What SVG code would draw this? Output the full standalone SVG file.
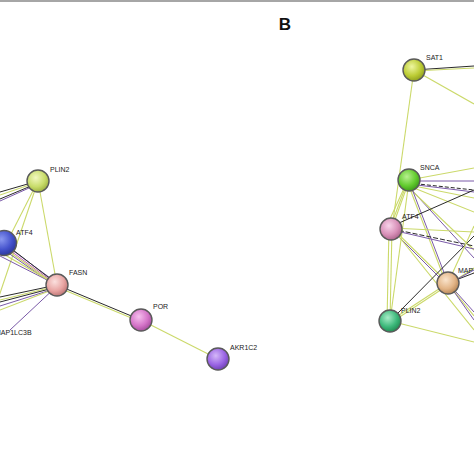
<svg xmlns="http://www.w3.org/2000/svg" width="474" height="474" viewBox="0 0 474 474">
<style>
.lbl{font-family:"Liberation Sans",Arial,sans-serif;font-size:7px;fill:#222}
.y{stroke:#cbd96a;stroke-width:1.1;fill:none}
.p{stroke:#7a5aa8;stroke-width:1;fill:none}
.k{stroke:#2a2a2a;stroke-width:1;fill:none}
.m{stroke:#c060b8;stroke-width:1;fill:none}
.n{stroke:#5a5a5a;stroke-width:1.4}
</style>
<defs>
<radialGradient id="gPl" cx="0.4" cy="0.35" r="0.7"><stop offset="0" stop-color="#f2f8c0"/><stop offset="0.6" stop-color="#c8dc6a"/><stop offset="1" stop-color="#98ac3a"/></radialGradient>
<radialGradient id="gAtfL" cx="0.4" cy="0.35" r="0.7"><stop offset="0" stop-color="#8a98f0"/><stop offset="0.6" stop-color="#4452cc"/><stop offset="1" stop-color="#2a3494"/></radialGradient>
<radialGradient id="gFa" cx="0.4" cy="0.35" r="0.7"><stop offset="0" stop-color="#fbe0de"/><stop offset="0.6" stop-color="#e8a4a2"/><stop offset="1" stop-color="#b87070"/></radialGradient>
<radialGradient id="gPo" cx="0.4" cy="0.35" r="0.7"><stop offset="0" stop-color="#f6c0ee"/><stop offset="0.6" stop-color="#d474c8"/><stop offset="1" stop-color="#a04898"/></radialGradient>
<radialGradient id="gAk" cx="0.4" cy="0.35" r="0.7"><stop offset="0" stop-color="#d4b8f8"/><stop offset="0.6" stop-color="#9a64e4"/><stop offset="1" stop-color="#6a3cb0"/></radialGradient>
<radialGradient id="gSa" cx="0.4" cy="0.35" r="0.7"><stop offset="0" stop-color="#eef6a0"/><stop offset="0.6" stop-color="#bccc34"/><stop offset="1" stop-color="#8a9a1c"/></radialGradient>
<radialGradient id="gSn" cx="0.4" cy="0.35" r="0.7"><stop offset="0" stop-color="#b8f090"/><stop offset="0.6" stop-color="#62cc2e"/><stop offset="1" stop-color="#3a9418"/></radialGradient>
<radialGradient id="gAtfR" cx="0.4" cy="0.35" r="0.7"><stop offset="0" stop-color="#f8d4ea"/><stop offset="0.6" stop-color="#d890b8"/><stop offset="1" stop-color="#a86088"/></radialGradient>
<radialGradient id="gMa" cx="0.4" cy="0.35" r="0.7"><stop offset="0" stop-color="#fae4cc"/><stop offset="0.6" stop-color="#e2b486"/><stop offset="1" stop-color="#b08050"/></radialGradient>
<radialGradient id="gPr" cx="0.4" cy="0.35" r="0.7"><stop offset="0" stop-color="#a8ecc8"/><stop offset="0.6" stop-color="#3cb87a"/><stop offset="1" stop-color="#20844e"/></radialGradient>
</defs>
<rect width="474" height="474" fill="#ffffff"/>
<rect x="0" y="0" width="474" height="2" fill="#a6a6a6"/>
<text x="285" y="30" text-anchor="middle" style="font-family:'Liberation Sans',Arial,sans-serif;font-size:17px;font-weight:bold;fill:#111">B</text>

<g id="connectors">
<!-- left panel -->
<line class="k" x1="38" y1="181" x2="0" y2="192"/>
<line class="y" x1="38" y1="182" x2="0" y2="195"/>
<line class="k" x1="38" y1="183" x2="0" y2="199"/>
<line class="p" x1="38" y1="184" x2="0" y2="201"/>
<line class="y" x1="38" y1="181" x2="8" y2="240"/>
<line class="y" x1="38" y1="181" x2="-4" y2="305"/>
<line class="y" x1="38" y1="181" x2="57" y2="285"/>
<line class="p" x1="4" y1="244" x2="57" y2="283"/>
<line class="m" x1="4" y1="246" x2="57" y2="285"/>
<line class="y" x1="4" y1="248" x2="57" y2="286"/>
<line class="p" x1="4" y1="250" x2="57" y2="287"/>
<line class="k" x1="4" y1="243" x2="57" y2="284"/>
<line class="p" x1="0" y1="256" x2="57" y2="285"/>
<line class="y" x1="0" y1="252" x2="57" y2="285"/>
<line class="k" x1="57" y1="285" x2="0" y2="297"/>
<line class="y" x1="57" y1="286" x2="0" y2="300"/>
<line class="k" x1="57" y1="287" x2="0" y2="302"/>
<line class="p" x1="57" y1="288" x2="0" y2="306"/>
<line class="y" x1="57" y1="288" x2="0" y2="310"/>
<line class="p" x1="57" y1="286" x2="10" y2="330"/>
<line class="k" x1="57" y1="285" x2="141" y2="320"/>
<line class="y" x1="57" y1="287" x2="141" y2="322"/>
<line class="y" x1="141" y1="320" x2="218" y2="359"/>
<!-- right panel -->
<line class="k" x1="414" y1="70" x2="474" y2="66"/>
<line class="y" x1="414" y1="71" x2="474" y2="68"/>
<line class="y" x1="414" y1="70" x2="474" y2="104"/>
<line class="y" x1="414" y1="70" x2="392" y2="228"/>
<line class="y" x1="409" y1="180" x2="474" y2="168"/>
<line class="p" x1="409" y1="181" x2="474" y2="181"/>
<line class="k" x1="409" y1="183" x2="474" y2="190" stroke-dasharray="4 2"/>
<line class="p" x1="409" y1="184" x2="474" y2="192"/>
<line class="y" x1="409" y1="185" x2="474" y2="198"/>
<line class="y" x1="409" y1="186" x2="474" y2="212"/>
<line class="p" x1="409" y1="187" x2="474" y2="258"/>
<line class="y" x1="409" y1="188" x2="474" y2="250"/>
<line class="p" x1="409" y1="181" x2="448" y2="283"/>
<line class="y" x1="407" y1="181" x2="446" y2="283"/>
<line class="y" x1="409" y1="181" x2="392" y2="228"/>
<line class="y" x1="407" y1="183" x2="390" y2="228"/>
<line class="y" x1="409" y1="181" x2="390" y2="321"/>
<line class="y" x1="406" y1="184" x2="384" y2="232"/>
<line class="k" x1="399" y1="223" x2="474" y2="190"/>
<line class="y" x1="392" y1="228" x2="474" y2="232"/>
<line class="k" x1="392" y1="229" x2="474" y2="246" stroke-dasharray="5 2"/>
<line class="p" x1="392" y1="230" x2="474" y2="249"/>
<line class="y" x1="392" y1="228" x2="448" y2="283"/>
<line class="p" x1="392" y1="230" x2="447" y2="285"/>
<line class="y" x1="392" y1="228" x2="390" y2="321"/>
<line class="y" x1="389" y1="229" x2="387" y2="321"/>
<line class="y" x1="392" y1="228" x2="474" y2="330"/>
<line class="k" x1="398" y1="313" x2="474" y2="236"/>
<line class="y" x1="390" y1="321" x2="448" y2="283"/>
<line class="y" x1="392" y1="322" x2="474" y2="268"/>
<line class="y" x1="390" y1="321" x2="474" y2="342"/>
<line class="k" x1="448" y1="283" x2="474" y2="273"/>
<line class="p" x1="448" y1="284" x2="474" y2="270"/>
<line class="p" x1="448" y1="283" x2="474" y2="312"/>
<line class="y" x1="449" y1="285" x2="474" y2="316"/>
<line class="p" x1="450" y1="286" x2="474" y2="320"/>
<line class="y" x1="448" y1="283" x2="474" y2="226"/>
</g>

<g id="L-PLIN2"><circle class="n" cx="38" cy="181" r="11" fill="url(#gPl)"/><text class="lbl" x="50" y="172">PLIN2</text></g>
<g id="L-ATF4"><circle class="n" cx="4" cy="243" r="12.5" fill="url(#gAtfL)"/><text class="lbl" x="16" y="235">ATF4</text></g>
<g id="L-FASN"><circle class="n" cx="57" cy="285" r="11" fill="url(#gFa)"/><text class="lbl" x="69" y="275">FASN</text></g>
<g id="L-MAP1LC3B"><text class="lbl" x="-5" y="335">MAP1LC3B</text></g>
<g id="L-POR"><circle class="n" cx="141" cy="320" r="11" fill="url(#gPo)"/><text class="lbl" x="153" y="309">POR</text></g>
<g id="L-AKR1C2"><circle class="n" cx="218" cy="359" r="11" fill="url(#gAk)"/><text class="lbl" x="230" y="350">AKR1C2</text></g>

<g id="R-SAT1"><circle class="n" cx="414" cy="70" r="11" fill="url(#gSa)"/><text class="lbl" x="426" y="60">SAT1</text></g>
<g id="R-SNCA"><circle class="n" cx="409" cy="180" r="11" fill="url(#gSn)"/><text class="lbl" x="420" y="170">SNCA</text></g>
<g id="R-ATF4"><circle class="n" cx="391" cy="229" r="11" fill="url(#gAtfR)"/><text class="lbl" x="402" y="219">ATF4</text></g>
<g id="R-MAP1"><circle class="n" cx="448" cy="283" r="11" fill="url(#gMa)"/><text class="lbl" x="458" y="273">MAP1LC3B</text></g>
<g id="R-PLIN2"><circle class="n" cx="390" cy="321" r="11" fill="url(#gPr)"/><text class="lbl" x="401" y="313">PLIN2</text></g>
</svg>
